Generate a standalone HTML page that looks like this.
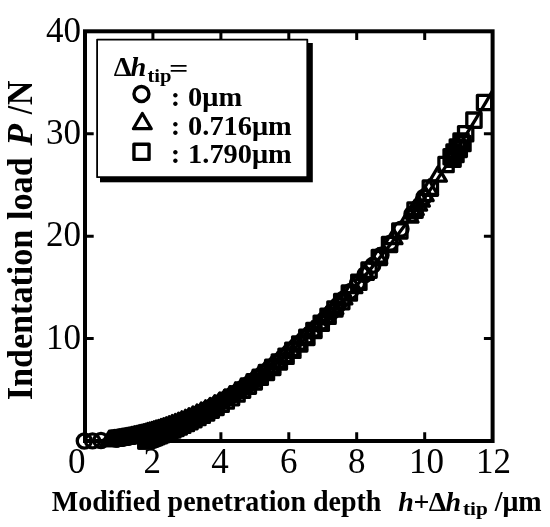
<!DOCTYPE html>
<html><head><meta charset="utf-8"><title>Indentation load vs modified penetration depth</title>
<style>
html,body{margin:0;padding:0;background:#fff;}
svg{display:block;}
text{font-family:'Liberation Serif','Times New Roman',serif;fill:#000;}
</style></head>
<body>
<svg width="550" height="527" viewBox="0 0 550 527">
<defs><filter id="bl" x="0" y="0" width="550" height="527" filterUnits="userSpaceOnUse"><feGaussianBlur stdDeviation="0.5"/></filter></defs>
<rect width="550" height="527" fill="#fff"/>
<g fill="none" stroke="#000" stroke-linejoin="miter">
<rect x="85.0" y="31.3" width="407.6" height="409.7" stroke-width="4" />
<path d="M152.9 31.3v8.7M152.9 441.0v-8.7" stroke-width="3"/>
<path d="M220.9 31.3v8.7M220.9 441.0v-8.7" stroke-width="3"/>
<path d="M288.8 31.3v8.7M288.8 441.0v-8.7" stroke-width="3"/>
<path d="M356.7 31.3v8.7M356.7 441.0v-8.7" stroke-width="3"/>
<path d="M424.7 31.3v8.7M424.7 441.0v-8.7" stroke-width="3"/>
<path d="M85.0 338.6h8.7M492.6 338.6h-8.7" stroke-width="3"/>
<path d="M85.0 236.2h8.7M492.6 236.2h-8.7" stroke-width="3"/>
<path d="M85.0 133.7h8.7M492.6 133.7h-8.7" stroke-width="3"/>
</g>
<g fill="none" stroke="#000" stroke-width="3.4" stroke-linejoin="round">
<rect x="100" y="43" width="212.8" height="139.3" fill="#000" stroke="none"/>
<rect x="97.1" y="39.6" width="210.2" height="137.6" fill="#fff" stroke-width="1.8"/>
<circle cx="141.45" cy="94" r="7.5"/>
<path d="M133.4 128.7L142.35 113.5L151.3 128.7Z" stroke-width="3.2"/>
<rect x="133.95" y="144.3" width="15.1" height="15.1"/>
</g>
<g fill="none" stroke="#000" stroke-width="3.3" stroke-linejoin="round" filter="url(#bl)">
<path d="M85.0 441.0L88.4 441.0L91.8 440.9L95.2 440.8L98.6 440.6L102.0 440.4L105.4 440.1L108.8 439.8L112.2 439.4L115.6 439.0L119.0 438.6L122.4 438.1L125.8 437.5L129.2 436.9L132.6 436.2L136.0 435.5L139.3 434.8L142.7 434.0L146.1 433.1L149.5 432.2L152.9 431.3L156.3 430.3L159.7 429.2L163.1 428.1L166.5 427.0L169.9 425.8L173.3 424.6L176.7 423.3L180.1 421.9L183.5 420.5L186.9 419.1L190.3 417.6L193.7 416.1L197.1 414.5L200.5 412.9L203.9 411.2L207.3 409.5L210.7 407.7L214.1 405.9L217.5 404.0L220.9 402.1L224.3 400.1L227.7 398.1L231.1 396.0L234.5 393.9L237.9 391.7L241.2 389.5L244.6 387.3L248.0 385.0L251.4 382.6L254.8 380.2L258.2 377.7L261.6 375.2L265.0 372.7L268.4 370.1L271.8 367.4L275.2 364.7L278.6 362.0L282.0 359.2L285.4 356.3L288.8 353.4L292.2 350.5L295.6 347.5L299.0 344.5L302.4 341.4L305.8 338.2L309.2 335.0L312.6 331.8L316.0 328.5L319.4 325.2L322.8 321.8L326.2 318.4L329.6 314.9L333.0 311.4L336.4 307.8L339.7 304.2L343.1 300.5L346.5 296.8L349.9 293.0L353.3 289.2L356.7 285.3L360.1 281.4L363.5 277.4L366.9 273.4L370.3 269.4L373.7 265.2L377.1 261.1L380.5 256.9L383.9 252.6L387.3 248.3L390.7 244.0L394.1 239.6L397.5 235.1L400.9 230.6L404.3 226.1L407.7 221.5L411.1 216.8L414.5 212.1L417.9 207.4L421.3 202.6L424.7 197.7L428.1 192.9L431.5 187.9L434.9 182.9L438.3 177.9L441.6 172.8L445.0 167.7L448.4 162.5L451.8 157.3L455.2 152.0L458.6 146.7L462.0 141.3L465.4 135.9L468.8 130.4L472.2 124.9L475.6 119.3L479.0 113.7L482.4 108.0L485.8 102.3L489.2 96.5L492.6 90.7" stroke-width="3.3"/>
<rect x="477.4" y="95.3" width="14.3" height="14.3"/>
<rect x="466.8" y="113.0" width="14.3" height="14.3"/>
<rect x="458.5" y="126.6" width="14.3" height="14.3"/>
<rect x="453.9" y="134.0" width="14.3" height="14.3"/>
<rect x="450.2" y="139.8" width="14.3" height="14.3"/>
<rect x="446.9" y="145.0" width="14.3" height="14.3"/>
<rect x="444.0" y="149.6" width="14.3" height="14.3"/>
<rect x="438.9" y="157.4" width="14.3" height="14.3"/>
<rect x="423.2" y="181.0" width="14.3" height="14.3"/>
<rect x="407.9" y="202.9" width="14.3" height="14.3"/>
<rect x="392.7" y="223.8" width="14.3" height="14.3"/>
<rect x="382.4" y="237.3" width="14.3" height="14.3"/>
<rect x="372.2" y="250.3" width="14.3" height="14.3"/>
<rect x="361.9" y="263.0" width="14.3" height="14.3"/>
<rect x="351.7" y="275.1" width="14.3" height="14.3"/>
<rect x="342.2" y="285.9" width="14.3" height="14.3"/>
<rect x="334.6" y="294.5" width="14.3" height="14.3"/>
<rect x="327.8" y="301.8" width="14.3" height="14.3"/>
<rect x="320.9" y="309.1" width="14.3" height="14.3"/>
<rect x="314.1" y="316.1" width="14.3" height="14.3"/>
<rect x="306.8" y="323.3" width="14.3" height="14.3"/>
<rect x="299.7" y="330.2" width="14.3" height="14.3"/>
<rect x="292.6" y="336.8" width="14.3" height="14.3"/>
<rect x="285.7" y="343.1" width="14.3" height="14.3"/>
<rect x="278.9" y="349.1" width="14.3" height="14.3"/>
<rect x="272.2" y="354.8" width="14.3" height="14.3"/>
<rect x="265.6" y="360.2" width="14.3" height="14.3"/>
<rect x="259.3" y="365.3" width="14.3" height="14.3"/>
<rect x="253.1" y="370.1" width="14.3" height="14.3"/>
<rect x="247.1" y="374.7" width="14.3" height="14.3"/>
<rect x="241.2" y="379.0" width="14.3" height="14.3"/>
<rect x="235.4" y="383.0" width="14.3" height="14.3"/>
<rect x="229.9" y="386.9" width="14.3" height="14.3"/>
<rect x="224.4" y="390.5" width="14.3" height="14.3"/>
<rect x="219.1" y="393.9" width="14.3" height="14.3"/>
<rect x="214.0" y="397.1" width="14.3" height="14.3"/>
<rect x="208.9" y="400.2" width="14.3" height="14.3"/>
<rect x="204.1" y="403.0" width="14.3" height="14.3"/>
<rect x="199.5" y="405.7" width="14.3" height="14.3"/>
<rect x="195.1" y="408.1" width="14.3" height="14.3"/>
<rect x="190.8" y="410.4" width="14.3" height="14.3"/>
<rect x="186.8" y="412.5" width="14.3" height="14.3"/>
<rect x="182.9" y="414.5" width="14.3" height="14.3"/>
<rect x="179.2" y="416.4" width="14.3" height="14.3"/>
<rect x="175.6" y="418.1" width="14.3" height="14.3"/>
<rect x="172.2" y="419.7" width="14.3" height="14.3"/>
<rect x="168.9" y="421.3" width="14.3" height="14.3"/>
<rect x="165.8" y="422.7" width="14.3" height="14.3"/>
<rect x="162.8" y="424.0" width="14.3" height="14.3"/>
<rect x="160.0" y="425.3" width="14.3" height="14.3"/>
<rect x="157.3" y="426.4" width="14.3" height="14.3"/>
<rect x="154.6" y="427.5" width="14.3" height="14.3"/>
<rect x="152.1" y="428.6" width="14.3" height="14.3"/>
<rect x="149.7" y="429.5" width="14.3" height="14.3"/>
<rect x="147.4" y="430.5" width="14.3" height="14.3"/>
<rect x="145.2" y="431.3" width="14.3" height="14.3"/>
<rect x="143.1" y="432.1" width="14.3" height="14.3"/>
<rect x="141.1" y="432.9" width="14.3" height="14.3"/>
<rect x="139.2" y="433.7" width="14.3" height="14.3"/>
<rect x="138.7" y="433.9" width="14.3" height="14.3"/>
<rect x="455.8" y="136.4" width="14.3" height="14.3"/>
<rect x="452.1" y="142.2" width="14.3" height="14.3"/>
<rect x="448.8" y="147.4" width="14.3" height="14.3"/>
<rect x="445.9" y="152.0" width="14.3" height="14.3"/>
<path d="M429.6 181.2L438.0 166.9L446.4 181.2Z"/>
<path d="M420.7 194.4L429.1 180.1L437.5 194.4Z"/>
<path d="M416.4 200.6L424.8 186.3L433.2 200.6Z"/>
<path d="M412.6 206.1L421.0 191.8L429.4 206.1Z"/>
<path d="M409.8 210.0L418.2 195.7L426.6 210.0Z"/>
<path d="M406.5 214.7L414.9 200.4L423.3 214.7Z"/>
<path d="M404.6 217.3L413.0 203.0L421.4 217.3Z"/>
<path d="M401.2 222.1L409.6 207.8L418.0 222.1Z"/>
<path d="M385.2 243.6L393.6 229.3L402.0 243.6Z"/>
<path d="M369.8 263.2L378.2 248.9L386.6 263.2Z"/>
<path d="M356.6 279.3L365.0 265.0L373.4 279.3Z"/>
<path d="M345.1 292.7L353.5 278.4L361.9 292.7Z"/>
<path d="M335.1 303.9L343.5 289.6L351.9 303.9Z"/>
<path d="M326.1 313.6L334.5 299.3L342.9 313.6Z"/>
<path d="M318.1 321.9L326.5 307.6L334.9 321.9Z"/>
<path d="M311.1 329.0L319.5 314.7L327.9 329.0Z"/>
<path d="M303.9 336.1L312.3 321.8L320.7 336.1Z"/>
<path d="M296.8 342.8L305.2 328.5L313.6 342.8Z"/>
<path d="M289.8 349.3L298.2 335.0L306.6 349.3Z"/>
<path d="M282.8 355.4L291.2 341.1L299.6 355.4Z"/>
<path d="M276.0 361.3L284.4 347.0L292.8 361.3Z"/>
<path d="M269.4 366.9L277.8 352.6L286.2 366.9Z"/>
<path d="M262.9 372.1L271.3 357.8L279.7 372.1Z"/>
<path d="M256.6 377.0L265.0 362.7L273.4 377.0Z"/>
<path d="M250.4 381.6L258.8 367.3L267.2 381.6Z"/>
<path d="M244.4 386.0L252.8 371.7L261.2 386.0Z"/>
<path d="M238.6 390.1L247.0 375.8L255.4 390.1Z"/>
<path d="M232.9 394.0L241.3 379.7L249.7 394.0Z"/>
<path d="M227.3 397.6L235.7 383.3L244.1 397.6Z"/>
<path d="M221.9 401.0L230.3 386.7L238.7 401.0Z"/>
<path d="M216.7 404.2L225.1 389.9L233.5 404.2Z"/>
<path d="M211.5 407.2L219.9 392.9L228.3 407.2Z"/>
<path d="M206.5 410.0L214.9 395.7L223.3 410.0Z"/>
<path d="M201.8 412.7L210.2 398.4L218.6 412.7Z"/>
<path d="M197.2 415.1L205.6 400.8L214.0 415.1Z"/>
<path d="M192.8 417.3L201.2 403.0L209.6 417.3Z"/>
<path d="M188.6 419.3L197.0 405.0L205.4 419.3Z"/>
<path d="M184.6 421.2L193.0 406.9L201.4 421.2Z"/>
<path d="M180.7 423.0L189.1 408.7L197.5 423.0Z"/>
<path d="M177.1 424.6L185.5 410.3L193.9 424.6Z"/>
<path d="M173.5 426.1L181.9 411.8L190.3 426.1Z"/>
<path d="M170.2 427.5L178.6 413.2L187.0 427.5Z"/>
<path d="M166.9 428.8L175.3 414.5L183.7 428.8Z"/>
<path d="M163.9 429.9L172.3 415.6L180.7 429.9Z"/>
<path d="M160.9 431.0L169.3 416.7L177.7 431.0Z"/>
<path d="M158.1 432.1L166.5 417.8L174.9 432.1Z"/>
<path d="M155.4 433.0L163.8 418.7L172.2 433.0Z"/>
<path d="M152.8 433.9L161.2 419.6L169.6 433.9Z"/>
<path d="M150.3 434.7L158.7 420.4L167.1 434.7Z"/>
<path d="M147.9 435.4L156.3 421.1L164.7 435.4Z"/>
<path d="M145.7 436.1L154.1 421.8L162.5 436.1Z"/>
<path d="M143.5 436.8L151.9 422.5L160.3 436.8Z"/>
<path d="M141.4 437.4L149.8 423.1L158.2 437.4Z"/>
<path d="M139.4 437.9L147.8 423.6L156.2 437.9Z"/>
<path d="M137.5 438.5L145.9 424.2L154.3 438.5Z"/>
<path d="M135.6 439.0L144.0 424.7L152.4 439.0Z"/>
<path d="M133.7 439.5L142.1 425.2L150.5 439.5Z"/>
<path d="M131.9 439.9L140.3 425.6L148.7 439.9Z"/>
<path d="M130.1 440.3L138.5 426.0L146.9 440.3Z"/>
<path d="M128.3 440.8L136.7 426.5L145.1 440.8Z"/>
<path d="M126.6 441.1L135.0 426.8L143.4 441.1Z"/>
<path d="M125.0 441.5L133.4 427.2L141.8 441.5Z"/>
<path d="M123.4 441.9L131.8 427.6L140.2 441.9Z"/>
<path d="M121.8 442.2L130.2 427.9L138.6 442.2Z"/>
<path d="M120.2 442.5L128.6 428.2L137.0 442.5Z"/>
<path d="M118.7 442.8L127.1 428.5L135.5 442.8Z"/>
<path d="M117.2 443.1L125.6 428.8L134.0 443.1Z"/>
<path d="M115.8 443.4L124.2 429.1L132.6 443.4Z"/>
<path d="M114.3 443.6L122.7 429.3L131.1 443.6Z"/>
<path d="M113.0 443.8L121.4 429.5L129.8 443.8Z"/>
<path d="M111.6 444.1L120.0 429.8L128.4 444.1Z"/>
<path d="M110.3 444.3L118.7 430.0L127.1 444.3Z"/>
<path d="M109.0 444.5L117.4 430.2L125.8 444.5Z"/>
<path d="M107.7 444.7L116.1 430.4L124.5 444.7Z"/>
<path d="M106.5 444.9L114.9 430.6L123.3 444.9Z"/>
<path d="M105.3 445.0L113.7 430.7L122.1 445.0Z"/>
<path d="M104.1 445.2L112.5 430.9L120.9 445.2Z"/>
<path d="M102.9 445.3L111.3 431.0L119.7 445.3Z"/>
<path d="M101.8 445.5L110.2 431.2L118.6 445.5Z"/>
<path d="M100.9 445.6L109.3 431.3L117.7 445.6Z"/>
<circle cx="424.0" cy="197.2" r="7.05"/>
<circle cx="412.0" cy="214.1" r="7.05"/>
<circle cx="401.0" cy="229.1" r="7.05"/>
<circle cx="390.4" cy="243.1" r="7.05"/>
<circle cx="381.0" cy="255.1" r="7.05"/>
<circle cx="372.8" cy="265.3" r="7.05"/>
<circle cx="365.0" cy="274.7" r="7.05"/>
<circle cx="357.5" cy="283.4" r="7.05"/>
<circle cx="350.5" cy="291.4" r="7.05"/>
<circle cx="344.0" cy="298.7" r="7.05"/>
<circle cx="338.0" cy="305.2" r="7.05"/>
<circle cx="332.0" cy="311.6" r="7.05"/>
<circle cx="326.5" cy="317.3" r="7.05"/>
<circle cx="321.0" cy="322.8" r="7.05"/>
<circle cx="313.8" cy="330.0" r="7.05"/>
<circle cx="306.6" cy="336.8" r="7.05"/>
<circle cx="299.6" cy="343.3" r="7.05"/>
<circle cx="292.7" cy="349.5" r="7.05"/>
<circle cx="285.8" cy="355.4" r="7.05"/>
<circle cx="279.1" cy="361.0" r="7.05"/>
<circle cx="272.6" cy="366.3" r="7.05"/>
<circle cx="266.3" cy="371.3" r="7.05"/>
<circle cx="260.1" cy="376.0" r="7.05"/>
<circle cx="254.0" cy="380.4" r="7.05"/>
<circle cx="248.2" cy="384.5" r="7.05"/>
<circle cx="242.4" cy="388.4" r="7.05"/>
<circle cx="236.9" cy="392.1" r="7.05"/>
<circle cx="231.4" cy="395.5" r="7.05"/>
<circle cx="226.1" cy="398.7" r="7.05"/>
<circle cx="221.0" cy="401.8" r="7.05"/>
<circle cx="216.0" cy="404.6" r="7.05"/>
<circle cx="211.1" cy="407.2" r="7.05"/>
<circle cx="206.5" cy="409.7" r="7.05"/>
<circle cx="202.1" cy="411.9" r="7.05"/>
<circle cx="197.9" cy="414.0" r="7.05"/>
<circle cx="193.8" cy="415.9" r="7.05"/>
<circle cx="189.9" cy="417.6" r="7.05"/>
<circle cx="186.2" cy="419.3" r="7.05"/>
<circle cx="182.7" cy="420.8" r="7.05"/>
<circle cx="179.3" cy="422.1" r="7.05"/>
<circle cx="176.0" cy="423.4" r="7.05"/>
<circle cx="172.9" cy="424.6" r="7.05"/>
<circle cx="169.9" cy="425.7" r="7.05"/>
<circle cx="167.1" cy="426.7" r="7.05"/>
<circle cx="164.3" cy="427.6" r="7.05"/>
<circle cx="161.7" cy="428.5" r="7.05"/>
<circle cx="159.2" cy="429.3" r="7.05"/>
<circle cx="156.8" cy="430.1" r="7.05"/>
<circle cx="154.5" cy="430.7" r="7.05"/>
<circle cx="152.3" cy="431.4" r="7.05"/>
<circle cx="150.2" cy="432.0" r="7.05"/>
<circle cx="148.2" cy="432.5" r="7.05"/>
<circle cx="146.3" cy="433.0" r="7.05"/>
<circle cx="144.3" cy="433.5" r="7.05"/>
<circle cx="142.5" cy="434.0" r="7.05"/>
<circle cx="140.6" cy="434.4" r="7.05"/>
<circle cx="138.9" cy="434.8" r="7.05"/>
<circle cx="137.1" cy="435.2" r="7.05"/>
<circle cx="135.4" cy="435.6" r="7.05"/>
<circle cx="133.7" cy="436.0" r="7.05"/>
<circle cx="132.1" cy="436.3" r="7.05"/>
<circle cx="130.5" cy="436.6" r="7.05"/>
<circle cx="128.9" cy="436.9" r="7.05"/>
<circle cx="127.4" cy="437.2" r="7.05"/>
<circle cx="125.9" cy="437.4" r="7.05"/>
<circle cx="124.5" cy="437.7" r="7.05"/>
<circle cx="123.0" cy="437.9" r="7.05"/>
<circle cx="121.6" cy="438.2" r="7.05"/>
<circle cx="120.3" cy="438.4" r="7.05"/>
<circle cx="118.9" cy="438.6" r="7.05"/>
<circle cx="117.6" cy="438.7" r="7.05"/>
<circle cx="116.4" cy="438.9" r="7.05"/>
<circle cx="116.0" cy="439.0" r="7.05"/>
<circle cx="101.0" cy="440.5" r="7.05"/>
<circle cx="92.5" cy="440.9" r="7.05"/>
<circle cx="84.3" cy="441.0" r="7.05"/>
</g>
<g>
<text x="80.9" y="41.9" text-anchor="end" font-size="35">40</text>
<text x="80.9" y="143.5" text-anchor="end" font-size="35">30</text>
<text x="80.9" y="246.3" text-anchor="end" font-size="35">20</text>
<text x="80.9" y="349.3" text-anchor="end" font-size="35">10</text>
<text x="76.7" y="473" text-anchor="middle" font-size="35">0</text>
<text x="152.3" y="473" text-anchor="middle" font-size="35">2</text>
<text x="220.0" y="473" text-anchor="middle" font-size="35">4</text>
<text x="288.7" y="473" text-anchor="middle" font-size="35">6</text>
<text x="356.8" y="473" text-anchor="middle" font-size="35">8</text>
<text x="426.4" y="473" text-anchor="middle" font-size="35">10</text>
<text x="493.5" y="473" text-anchor="middle" font-size="35">12</text>
<text transform="translate(0 510.5) scale(1 1.03)" x="51.8" y="0" font-size="28" font-weight="bold">Modified penetration depth</text>
<text transform="translate(0 510.5) scale(1 0.97)" y="0" font-size="28" font-weight="bold"><tspan x="398.2" font-style="italic">h</tspan><tspan x="413.5">+</tspan><tspan x="428.8">Δ</tspan><tspan x="445.5" font-style="italic">h</tspan></text>
<text transform="translate(463 515.4) scale(1 0.85)" font-size="21.3" font-weight="bold">tip</text>
<text transform="translate(494.7 510.5) scale(1 1.02)" font-size="28" font-weight="bold">/μm</text>
<text transform="translate(32.3 400.2) rotate(-90) scale(1 1.050)" font-size="34.1" font-weight="bold">Indentation</text>
<text transform="translate(32.3 219.9) rotate(-90) scale(1 1.050)" font-size="34.1" font-weight="bold">load</text>
<text transform="translate(32.3 145.8) rotate(-90) scale(1 1.009)" font-size="35.5" font-weight="bold" font-style="italic">P</text>
<text transform="translate(32.3 114.3) rotate(-90) scale(1 1.194)" font-size="30" font-weight="bold">/</text>
<text transform="translate(32.3 105.3) rotate(-90) scale(1 1.050)" font-size="34.1" font-weight="bold">N</text>
<text transform="translate(0 76.3) scale(1 0.98)" y="0" font-size="28.4" font-weight="bold"><tspan x="113.7">Δ</tspan><tspan x="130.6" font-style="italic">h</tspan></text>
<text transform="translate(147.5 81.6) scale(1 0.9)" font-size="20.6" font-weight="bold">tip</text>
<text transform="translate(169.1 76.5) scale(1.333 1)" font-size="25.6" font-weight="bold">=</text>
<text transform="translate(0 105.8) scale(1 0.95)" y="0" font-size="28.4" font-weight="bold"><tspan x="170.8">:</tspan><tspan x="188.1">0μm</tspan></text>
<text transform="translate(0 134.5) scale(1 0.95)" y="0" font-size="28.4" font-weight="bold"><tspan x="170.8">:</tspan><tspan x="188.1">0.716μm</tspan></text>
<text transform="translate(0 163.2) scale(1 0.95)" y="0" font-size="28.4" font-weight="bold"><tspan x="170.8">:</tspan><tspan x="188.1">1.790μm</tspan></text>
</g>
</svg>
</body></html>
